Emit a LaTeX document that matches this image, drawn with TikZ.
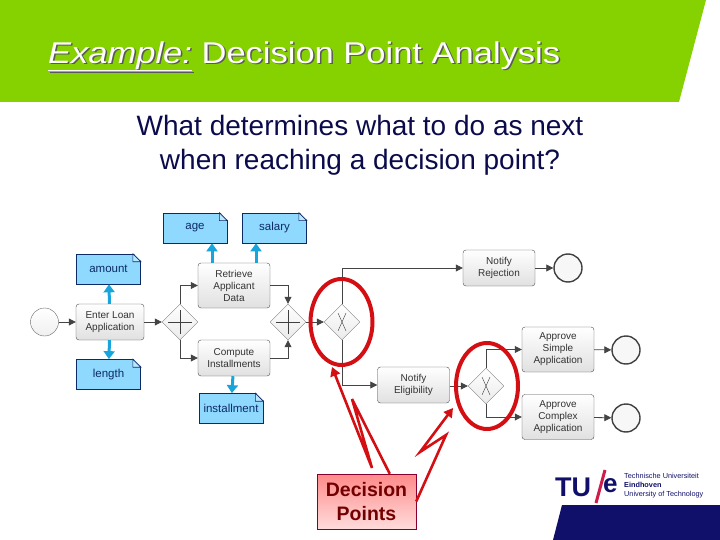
\documentclass[tikz,border=0pt]{standalone}
\usepackage{fontspec}
\setmainfont{Liberation Sans}
\newfontfamily\widefont[FakeStretch=1.15]{Liberation Sans}
\usetikzlibrary{arrows.meta,shapes.geometric}
\definecolor{headgreen}{HTML}{86D200}
\definecolor{tuenavy}{HTML}{10106B}
\definecolor{tuered}{HTML}{D01C4A}
\definecolor{notefill}{HTML}{8FD9FF}
\definecolor{notedraw}{HTML}{0C2A66}
\definecolor{assocblue}{HTML}{18A5DC}
\definecolor{flowgray}{HTML}{444444}
\definecolor{markred}{HTML}{D40F14}
\newcommand{\titleshade}[1]{\rlap{\raisebox{-1.5pt}{\kern1.5pt\textcolor{black!65}{#1}}}#1}
\tikzset{
	taskbox/.style={draw=black!70, rounded corners=3pt, top color=white, bottom color=black!12,
		minimum width=72pt, align=center, font=\fontsize{10}{12}\selectfont, text=black!80, inner sep=1pt},
	notebox/.style={draw=notedraw, fill=notefill, minimum width=64pt, minimum height=30pt, inner sep=0pt,
		text=notedraw, font=\fontsize{11.5}{13}\selectfont, line width=0.7pt},
	gatebox/.style={draw=black!50, diamond, minimum width=36pt, minimum height=36pt, inner sep=0pt,
		top color=white, bottom color=black!8},
	gateplus/.style={gatebox, path picture={
		\draw[black!75] (path picture bounding box.center) ++(-12pt,0) -- ++(24pt,0);
		\draw[black!75] (path picture bounding box.center) ++(0,-12pt) -- ++(0,24pt);}},
	gatexor/.style={gatebox, path picture={
		\draw[black!75] (path picture bounding box.center) ++(-4pt,-9pt) -- ++(8pt,18pt);
		\draw[black!75] (path picture bounding box.center) ++(4pt,-9pt) -- ++(-8pt,18pt);}},
	startdot/.style={circle, draw=black!60, minimum size=28pt, inner sep=0pt, top color=white, bottom color=black!6},
	enddot/.style={circle, draw=black!75, line width=1.4pt, minimum size=28pt, inner sep=0pt, fill=black!3},
	flow/.style={draw=flowgray, line width=0.8pt, -{Triangle[length=7pt,width=7pt]}},
	assoc/.style={draw=assocblue, line width=3pt, -{Triangle[length=8pt,width=11pt]}},
	markring/.style={ellipse, draw=markred, line width=4pt, minimum width=62pt, minimum height=86pt, inner sep=0pt},
	markline/.style={draw=markred, line width=2.6pt, line join=miter, -{Triangle[length=9pt,width=10pt]}},
}
\begin{document}
\begin{tikzpicture}[x=1pt,y=-1pt]
	\useasboundingbox (0,0) rectangle (720,540);
	% slide frame
	\fill[headgreen] (0,0) -- (706,0) -- (679,102) -- (0,102) -- cycle;
	\fill[tuenavy] (562,505) -- (720,505) -- (720,540) -- (553,540) -- cycle;
	\node[anchor=west, inner sep=0pt, text=white, font=\widefont\fontsize{30}{32}\selectfont] (title) at (48,57)
		{\titleshade{\underline{\textit{Example:}}}~\titleshade{Decision Point Analysis}};
	\node[align=center, text=tuenavy!70!black, font=\fontsize{28}{34}\selectfont] (question) at (360,145)
		{What determines what to do as next\\when reaching a decision point?};
	% process
	\node[startdot] (start) at (44.5,322) {};
	\node[taskbox, minimum width=68pt, minimum height=36pt] (enter) at (110,322) {Enter Loan\\Application};
	\node[gateplus] (splitand) at (180,322) {};
	\node[taskbox, minimum height=45pt] (retrieve) at (234,285.5) {Retrieve\\Applicant\\Data};
	\node[taskbox, minimum height=36pt] (compute) at (234,358) {Compute\\Installments};
	\node[gateplus] (joinand) at (288,322) {};
	\node[gatexor] (xorA) at (342,322) {};
	\node[taskbox, minimum height=36pt] (reject) at (499,268) {Notify\\Rejection};
	\node[enddot] (endA) at (568,268) {};
	\node[taskbox, minimum height=36pt] (notify) at (413.5,385) {Notify\\Eligibility};
	\node[gatexor] (xorB) at (486,386) {};
	\node[taskbox, minimum height=45pt] (simple) at (558,349.5) {Approve\\Simple\\Application};
	\node[taskbox, minimum height=45pt] (complex) at (558,417) {Approve\\Complex\\Application};
	\node[enddot] (endB) at (626,350) {};
	\node[enddot] (endC) at (626,418) {};
	% data
	\node[notebox] (age) at (195,228) {age};
	\node[notebox] (salary) at (274.5,228) {salary};
	\node[notebox] (amount) at (108.5,269) {amount};
	\node[notebox] (length) at (108.5,374.5) {length};
	\node[notebox] (installment) at (231,408.5) {installment};
	\foreach \notename in {age,salary,amount,length,installment} {
		\fill[white] ([shift={(-8pt,1pt)}]\notename.north east) -- ([shift={(1pt,1pt)}]\notename.north east) -- ([shift={(1pt,-8pt)}]\notename.north east) -- cycle;
		\draw[notedraw, line width=0.7pt, fill=notefill!60!white] ([xshift=-8pt]\notename.north east) -- ([yshift=-8pt]\notename.north east) -- ([shift={(-8pt,-8pt)}]\notename.north east) -- cycle;
	}
	\draw[flow] (start) -- (enter);
	\draw[flow] (enter) -- (splitand);
	\draw[flow] (splitand.north) |- (retrieve);
	\draw[flow] (splitand.south) |- (compute);
	\draw[flow] (retrieve) -| (joinand.north);
	\draw[flow] (compute) -| (joinand.south);
	\draw[flow] (joinand) -- (xorA);
	\draw[flow] (xorA.north) |- (reject);
	\draw[flow] (xorA.south) |- (notify);
	\draw[flow] (reject) -- (endA);
	\draw[flow] (notify.east |- xorB) -- (xorB);
	\draw[flow] (xorB.north) |- (simple);
	\draw[flow] (xorB.south) |- (complex);
	\draw[flow] (simple) -- (endB);
	\draw[flow] (complex) -- (endC);
	\draw[assoc] (enter) -- (amount);
	\draw[assoc] (enter) -- (length);
	\draw[assoc] ([xshift=-22pt]retrieve.north) -- ([xshift=-22pt]retrieve.north |- age.south);
	\draw[assoc] ([xshift=22pt]retrieve.north) -- ([xshift=22pt]retrieve.north |- salary.south);
	\draw[assoc] (compute) -- (installment);
	% decision points
	\node[markring] (ringA) at (341.5,322) {};
	\node[markring] (ringB) at (487,386) {};
	\node[draw=black!30!purple, top color=red!20!pink!90!red, bottom color=pink!55!white, minimum width=99pt, minimum height=55pt,
		inner sep=0pt, align=center, text=red!45!black, font=\bfseries\fontsize{19.5}{24}\selectfont] (decide) at (366.5,501.5) {Decision\\Points};
	\coordinate (tipA) at (332,367);
	\coordinate (tipB) at (453,408);
	\draw[markline] (decide.50) -- (352,399) -- (372,468) -- (tipA);
	\draw[markline] (decide.east) -- (446,435) -- (420,452) -- (tipB);
	% logo
	\node[anchor=west, inner sep=0pt, text=tuenavy, font=\bfseries\fontsize{27}{27}\selectfont] (logotu) at (555,487) {TU};
	\draw[tuered, line width=3pt] (605,470) -- (596,503);
	\node[anchor=west, inner sep=0pt, text=tuenavy, font=\bfseries\fontsize{26}{26}\selectfont] (logoe) at (603,486) {e};
	\node[anchor=west, inner sep=0pt, align=left, text=tuenavy, font=\fontsize{7.3}{9}\selectfont] (logotext) at (624,486)
		{Technische Universiteit\\\textbf{Eindhoven}\\University of Technology};
\end{tikzpicture}
\end{document}
